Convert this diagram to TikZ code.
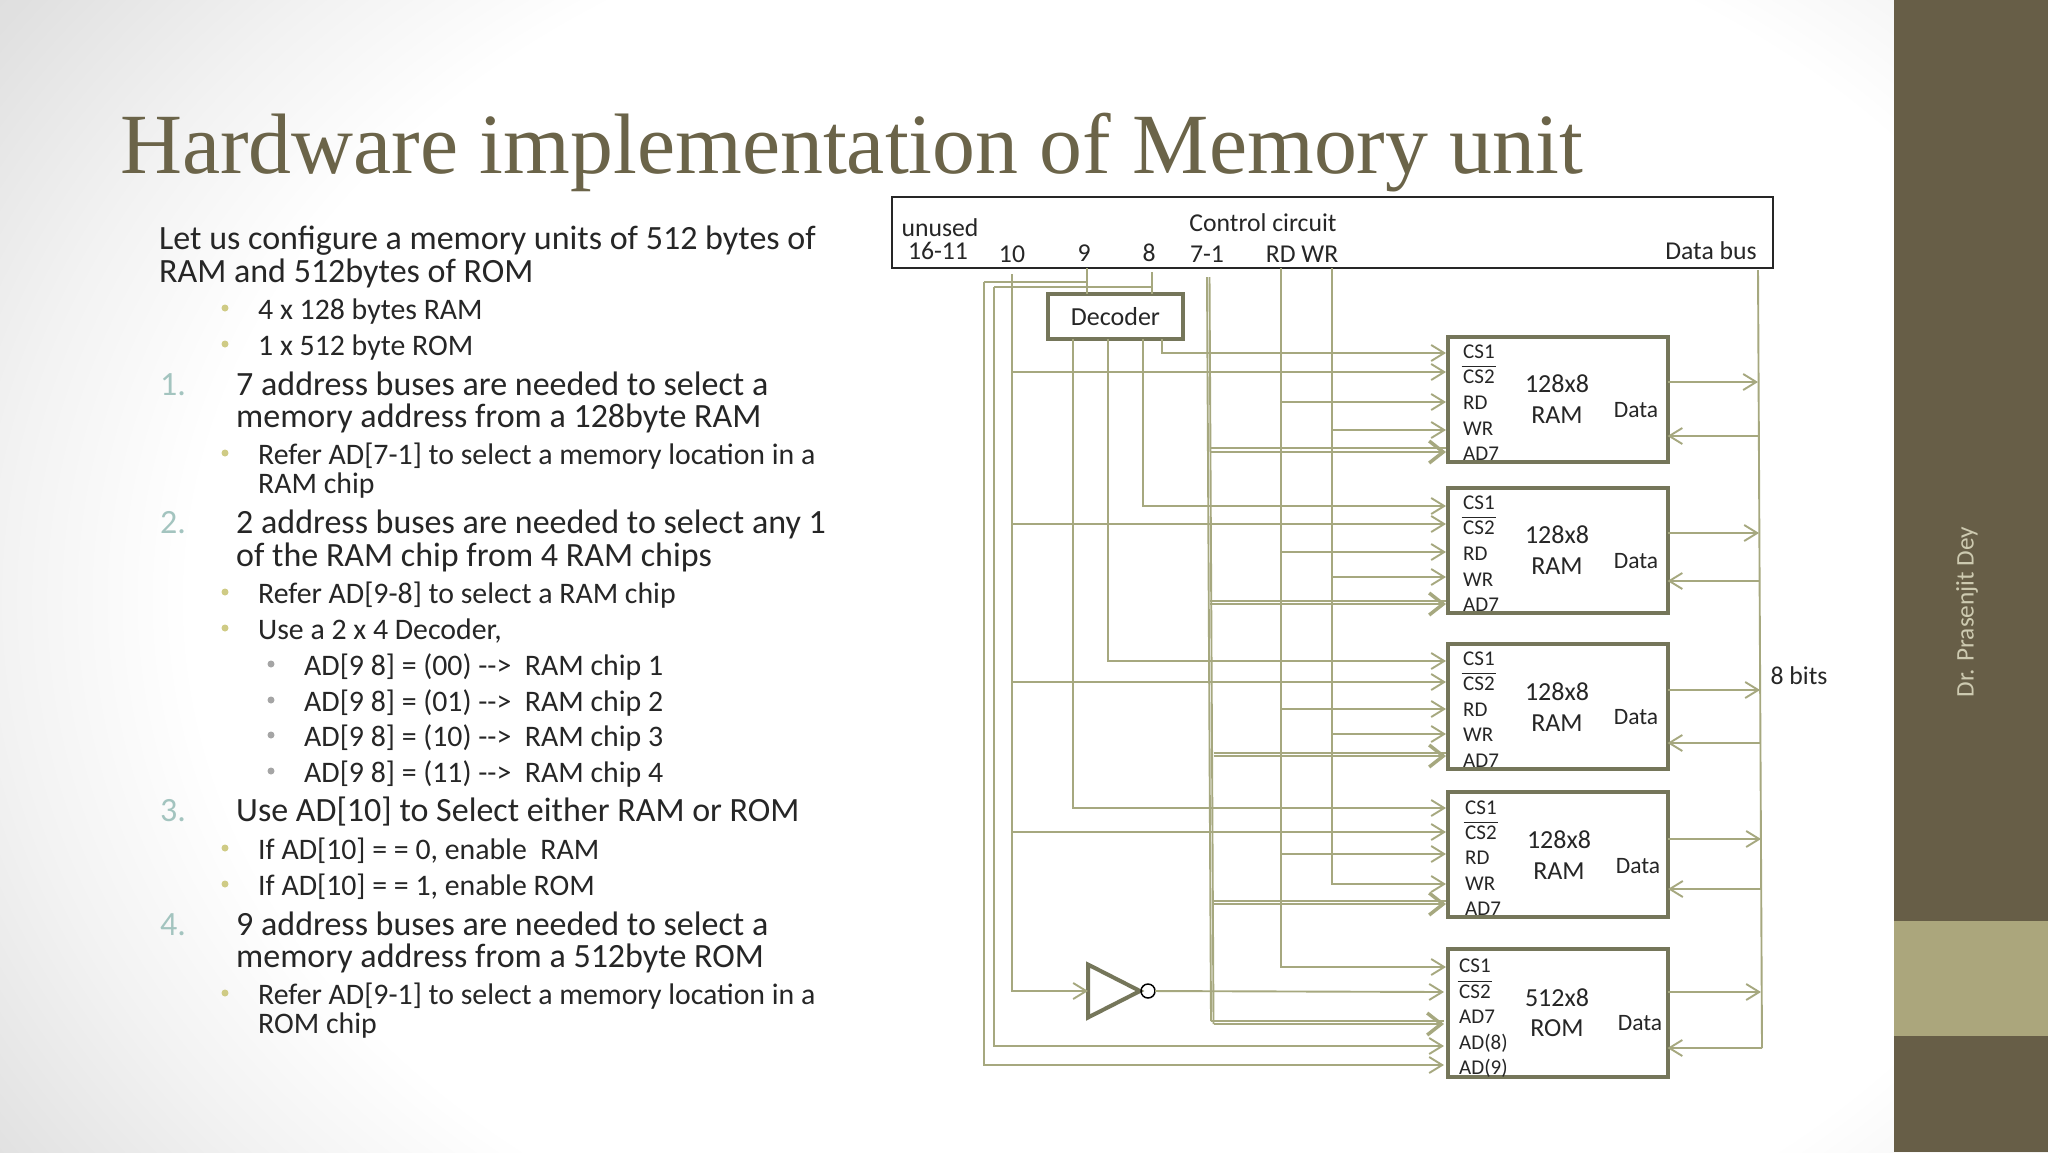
\documentclass[tikz,border=0pt]{standalone}
\usepackage{fontspec}
\setmainfont{Carlito}
\newfontfamily\titlefont{Liberation Serif}
\usetikzlibrary{arrows.meta,shapes.geometric}
\definecolor{wirecol}{HTML}{A6A87F}
\definecolor{boxcol}{HTML}{75765A}
\definecolor{sidecol}{HTML}{675E47}
\definecolor{bandcol}{HTML}{ABA67C}
\definecolor{titlecol}{HTML}{6B6449}
\definecolor{numcol}{HTML}{A3C4BF}
\definecolor{dotcol}{HTML}{CFCB85}
\definecolor{dotgray}{HTML}{A5A5A5}
\definecolor{inkcol}{HTML}{262626}
\definecolor{bga}{gray}{0.975}
\definecolor{bgb}{gray}{0.95}
\definecolor{bgc}{gray}{0.88}
\definecolor{bgd}{gray}{0.84}
\newcommand{\barred}[1]{\vbox{\hrule height 1.3pt \kern 2.2pt \hbox{\kern 1.5pt #1\kern 1.5pt}}}
\newcommand{\fsz}[1]{\fontsize{#1}{#1}\selectfont}
\pgfdeclareradialshading{slidebg}{\pgfpointorigin}{color(0bp)=(white); color(15bp)=(white); color(16.5bp)=(bga); color(18bp)=(bgb); color(21.5bp)=(bgc); color(25bp)=(bgd); color(50bp)=(bgd)}
\begin{document}
\begin{tikzpicture}[x=1pt, y=-1pt,
    >={Straight Barb[length=13pt,width=16pt]},
    wire/.style={draw=wirecol, line width=1.9pt},
    bus/.style={wire, -{Straight Barb[length=14pt,width=22pt,line width=3.5pt]}},
    chip/.style={draw=boxcol, line width=4pt, fill=white, minimum width=220pt, minimum height=125pt, inner sep=0pt, outer sep=0pt},
    pin/.style={anchor=base west, inner sep=0pt, text=inkcol, font=\fsz{21}},
    big/.style={inner sep=0pt, text=inkcol, font=\fsz{26}},
    dat/.style={inner sep=0pt, text=inkcol, font=\fsz{23.5}},
    head/.style={inner sep=0pt, text=inkcol, font=\fsz{25.7}},
    lvla/.style={anchor=base west, inner sep=0pt, text=inkcol, font=\fsz{34}},
    lvlb/.style={anchor=base west, inner sep=0pt, text=inkcol, font=\fsz{29.8}},
    numb/.style={anchor=base west, inner sep=0pt, text=numcol, font=\fsz{34}},
    dot/.style={circle, fill=dotcol, inner sep=0pt, minimum size=7pt},
    dotg/.style={circle, fill=dotgray, inner sep=0pt, minimum size=7pt}]
    \useasboundingbox (0,0) rectangle (2048,1152);

    % Slide background
    \begin{scope}
    \clip (0,0) rectangle (2048,1152);
    \shade[shading=slidebg] (-450,-600) rectangle (2750,1800);
    \end{scope}
    \fill[sidecol] (1894,0) rectangle (2048,1152);
    \fill[bandcol] (1894,921) rectangle (2048,1036);
    \node[rotate=90, inner sep=0pt, text=bandcol!60!white, font=\fsz{25.3}] (author) at (1967,612) {Dr. Prasenjit Dey};

    % Title
    \node[anchor=base west, inner sep=0pt, text=titlecol, font=\titlefont\fsz{85.8}] (title) at (120,173) {Hardware implementation of Memory unit};

    % Left column
    \node[lvla] (intro1) at (159,249) {Let us configure a memory units of 512 bytes of};
    \node[lvla] (intro2) at (159,282) {RAM and 512bytes of ROM};
    \node[dot] (d1) at (225,308) {};
    \node[lvlb] (t1) at (258,319) {4 x 128 bytes RAM};
    \node[dot] (d2) at (225,344) {};
    \node[lvlb] (t2) at (258,355) {1 x 512 byte ROM};
    \node[numb] (n1) at (160,395) {1.};
    \node[lvla] (p1a) at (236,395) {7 address buses are needed to select a};
    \node[lvla] (p1b) at (236,427) {memory address from a 128byte RAM};
    \node[dot] (d3) at (225,453) {};
    \node[lvlb] (t3a) at (258,464) {Refer AD[7-1] to select a memory location in a};
    \node[lvlb] (t3b) at (258,493) {RAM chip};
    \node[numb] (n2) at (160,533) {2.};
    \node[lvla] (p2a) at (236,533) {2 address buses are needed to select any 1};
    \node[lvla] (p2b) at (236,566) {of the RAM chip from 4 RAM chips};
    \node[dot] (d4) at (225,592) {};
    \node[lvlb] (t4) at (258,603) {Refer AD[9-8] to select a RAM chip};
    \node[dot] (d5) at (225,628) {};
    \node[lvlb] (t5) at (258,639) {Use a 2 x 4 Decoder,};
    \node[dotg] (g1) at (271,664) {};
    \node[lvlb] (s1) at (304,675) {AD[9 8] = (00) -{}-{}>\ \ RAM chip 1};
    \node[dotg] (g2) at (271,700) {};
    \node[lvlb] (s2) at (304,711) {AD[9 8] = (01) -{}-{}>\ \ RAM chip 2};
    \node[dotg] (g3) at (271,735) {};
    \node[lvlb] (s3) at (304,746) {AD[9 8] = (10) -{}-{}>\ \ RAM chip 3};
    \node[dotg] (g4) at (271,771) {};
    \node[lvlb] (s4) at (304,782) {AD[9 8] = (11) -{}-{}>\ \ RAM chip 4};
    \node[numb] (n3) at (160,821) {3.};
    \node[lvla] (p3) at (236,821) {Use AD[10] to Select either RAM or ROM};
    \node[dot] (d6) at (225,848) {};
    \node[lvlb] (t6) at (258,859) {If AD[10] = = 0, enable\ \ RAM};
    \node[dot] (d7) at (225,884) {};
    \node[lvlb] (t7) at (258,895) {If AD[10] = = 1, enable ROM};
    \node[numb] (n4) at (160,935) {4.};
    \node[lvla] (p4a) at (236,935) {9 address buses are needed to select a};
    \node[lvla] (p4b) at (236,967) {memory address from a 512byte ROM};
    \node[dot] (d8) at (225,993) {};
    \node[lvlb] (t8a) at (258,1004) {Refer AD[9-1] to select a memory location in a};
    \node[lvlb] (t8b) at (258,1033) {ROM chip};

    % Control box on top
    \node[draw=inkcol, line width=1.8pt, inner sep=0pt, outer sep=0pt, minimum width=881pt, minimum height=71pt] (ctrl) at (1332.5,232.5) {};
    \node[head] (unused) at (940,228) {unused};
    \node[head] (addr1611) at (938,251) {16-11};
    \node[head] (addr10) at (1012,254) {10};
    \node[head] (addr9) at (1084,253) {9};
    \node[head] (addr8) at (1149,253) {8};
    \node[head] (circuit) at (1263,223) {Control circuit};
    \node[head] (addr71) at (1207,254) {7-1};
    \node[head] (rdwr) at (1302,254) {RD WR};
    \node[head] (databus) at (1711,251) {Data bus};

    % Decoder and chips
    \node[draw=boxcol, line width=4pt, fill=white, inner sep=0pt, outer sep=0pt, minimum width=135pt, minimum height=45pt, text=inkcol, font=\fsz{26}] (dec) at (1115.5,316.5) {Decoder};
    \node[chip] (ram1) at (1557.5,399.5) {};
    \node[chip] (ram2) at (1557.5,550.5) {};
    \node[chip] (ram3) at (1557.5,706) {};
    \node[chip] (ram4) at (1558,854) {};
    \node[chip, minimum height=128pt] (rom) at (1557.5,1013) {};

    % Free ends of the wires
    \coordinate (a9) at (1087,268);
    \coordinate (a8) at (1152,272);
    \coordinate (a10) at (1012,274);
    \coordinate (a7a) at (1207,277);
    \coordinate (a7b) at (1209.5,277);
    \coordinate (a7c) at (1211,1021);
    \coordinate (a7d) at (1213.5,1024);
    \coordinate (ard) at (1281,268);
    \coordinate (awr) at (1332,268);
    \coordinate (o1) at (1073,339);
    \coordinate (o2) at (1108,339);
    \coordinate (o3) at (1143,339);
    \coordinate (o4) at (1162,339);
    \coordinate (nine) at (984,282);
    \coordinate (eight) at (994,287);
    \coordinate (bust) at (1758,270);
    \coordinate (busb) at (1762,1048);

    % Pins of the chips
    \coordinate (r1cs1) at (1446,353);
    \coordinate (r1cs2) at (1446,372);
    \coordinate (r1rd) at (1446,402);
    \coordinate (r1wr) at (1446,430);
    \coordinate (r1ada) at (1446,448);
    \coordinate (r1adb) at (1446,452);
    \coordinate (r2cs1) at (1446,506);
    \coordinate (r2cs2) at (1446,524);
    \coordinate (r2rd) at (1446,552);
    \coordinate (r2wr) at (1446,577);
    \coordinate (r2ada) at (1446,601);
    \coordinate (r2adb) at (1446,604);
    \coordinate (r3cs1) at (1446,661);
    \coordinate (r3cs2) at (1446,682);
    \coordinate (r3rd) at (1446,709);
    \coordinate (r3wr) at (1446,734);
    \coordinate (r3ada) at (1446,753);
    \coordinate (r3adb) at (1446,756);
    \coordinate (r4cs1) at (1446,808);
    \coordinate (r4cs2) at (1446,832);
    \coordinate (r4rd) at (1446,854);
    \coordinate (r4wr) at (1446,884);
    \coordinate (r4ada) at (1446,901);
    \coordinate (r4adb) at (1446,904);
    \coordinate (rocs1) at (1446,967);
    \coordinate (rocs2) at (1444,992);
    \coordinate (roada) at (1444,1021);
    \coordinate (roadb) at (1444,1024);
    \coordinate (road8) at (1444,1046);
    \coordinate (road9) at (1444,1065);

    % Inverter
    \node[isosceles triangle, isosceles triangle apex angle=54, anchor=west, draw=boxcol, line width=4pt, inner sep=0pt, outer sep=0pt, minimum height=52pt, minimum width=53pt] (inv) at (1088,991) {};
    \node[circle, draw=black, line width=1.5pt, inner sep=0pt, outer sep=0pt, minimum size=14pt] (bub) at (1148,991) {};

    % Address wires into the left side
    \draw[wire] (a9) -- (a9 |- dec.north);
    \draw[wire] (a8) -- (a8 |- dec.north);
    \draw[wire, ->] (nine) -| (nine |- road9) -- (road9);
    \draw[wire] (nine) -- (nine -| a9);
    \draw[wire, ->] (eight) -| (eight |- road8) -- (road8);
    \draw[wire] (eight) -- (eight -| a8);
    \draw[wire, ->] (a10) |- (inv.west);
    \draw[wire, ->] (a10 |- r1cs2) -- (r1cs2);
    \draw[wire, ->] (a10 |- r2cs2) -- (r2cs2);
    \draw[wire, ->] (a10 |- r3cs2) -- (r3cs2);
    \draw[wire, ->] (a10 |- r4cs2) -- (r4cs2);
    \draw[wire, ->] (bub) -- (rocs2);

    % Decoder outputs
    \draw[wire, ->] (o4) |- (r1cs1);
    \draw[wire, ->] (o3) |- (r2cs1);
    \draw[wire, ->] (o2) |- (r3cs1);
    \draw[wire, ->] (o1) |- (r4cs1);

    % Seven address lines
    \draw[wire] (a7a) -- (a7c);
    \draw[wire] (a7b) -- (a7d);
    \draw[wire] (a7b |- r1ada) -- (r1ada);
    \draw[bus] (a7b |- r1adb) -- (r1adb);
    \draw[wire] (a7b |- r2ada) -- (r2ada);
    \draw[bus] (a7b |- r2adb) -- (r2adb);
    \draw[wire] (a7d |- r3ada) -- (r3ada);
    \draw[bus] (a7d |- r3adb) -- (r3adb);
    \draw[wire] (a7d |- r4ada) -- (r4ada);
    \draw[bus] (a7d |- r4adb) -- (r4adb);
    \draw[wire] (a7c) -- (roada);
    \draw[bus] (a7d) -- (roadb);

    % Read and write
    \draw[wire, ->] (ard) |- (rocs1);
    \draw[wire, ->] (ard |- r1rd) -- (r1rd);
    \draw[wire, ->] (ard |- r2rd) -- (r2rd);
    \draw[wire, ->] (ard |- r3rd) -- (r3rd);
    \draw[wire, ->] (ard |- r4rd) -- (r4rd);
    \draw[wire, ->] (awr) |- (r4wr);
    \draw[wire, ->] (awr |- r1wr) -- (r1wr);
    \draw[wire, ->] (awr |- r2wr) -- (r2wr);
    \draw[wire, ->] (awr |- r3wr) -- (r3wr);

    % Data bus
    \draw[wire] (bust) -- (busb);
    \coordinate (r1o) at (1758,382);
    \coordinate (r1i) at (1758,436);
    \coordinate (r2o) at (1759,533);
    \coordinate (r2i) at (1759,581);
    \coordinate (r3o) at (1760,690);
    \coordinate (r3i) at (1760,743);
    \coordinate (r4o) at (1761,839);
    \coordinate (r4i) at (1761,889);
    \coordinate (roo) at (1761,992);
    \draw[wire, ->] (ram1.east |- r1o) -- (r1o);
    \draw[wire, ->] (r1i) -- (ram1.east |- r1i);
    \draw[wire, ->] (ram2.east |- r2o) -- (r2o);
    \draw[wire, ->] (r2i) -- (ram2.east |- r2i);
    \draw[wire, ->] (ram3.east |- r3o) -- (r3o);
    \draw[wire, ->] (r3i) -- (ram3.east |- r3i);
    \draw[wire, ->] (ram4.east |- r4o) -- (r4o);
    \draw[wire, ->] (r4i) -- (ram4.east |- r4i);
    \draw[wire, ->] (rom.east |- roo) -- (roo);
    \draw[wire, ->] (busb) -- (rom.east |- busb);
    \node[head] (bits) at (1799,676) {8 bits};

    % Chip labels
    \node[pin] (r1a) at (1463,358) {CS1};
    \node[pin] (r1b) at (1461.5,383) {\barred{CS2}};
    \node[pin] (r1c) at (1463,409) {RD};
    \node[pin] (r1d) at (1463,435) {WR};
    \node[pin] (r1e) at (1463,460) {AD7};
    \node[big] (r1f) at (1557,384) {128x8};
    \node[big] (r1g) at (1557,415) {RAM};
    \node[dat] (r1h) at (1636,410) {Data};

    \node[pin] (r2a) at (1463,509) {CS1};
    \node[pin] (r2b) at (1461.5,534) {\barred{CS2}};
    \node[pin] (r2c) at (1463,560) {RD};
    \node[pin] (r2d) at (1463,586) {WR};
    \node[pin] (r2e) at (1463,611) {AD7};
    \node[big] (r2f) at (1557,535) {128x8};
    \node[big] (r2g) at (1557,566) {RAM};
    \node[dat] (r2h) at (1636,561) {Data};

    \node[pin] (r3a) at (1463,665) {CS1};
    \node[pin] (r3b) at (1461.5,690) {\barred{CS2}};
    \node[pin] (r3c) at (1463,716) {RD};
    \node[pin] (r3d) at (1463,741) {WR};
    \node[pin] (r3e) at (1463,767) {AD7};
    \node[big] (r3f) at (1557,692) {128x8};
    \node[big] (r3g) at (1557,723) {RAM};
    \node[dat] (r3h) at (1636,717) {Data};

    \node[pin] (r4a) at (1465,814) {CS1};
    \node[pin] (r4b) at (1463.5,839) {\barred{CS2}};
    \node[pin] (r4c) at (1465,864) {RD};
    \node[pin] (r4d) at (1465,890) {WR};
    \node[pin] (r4e) at (1465,915) {AD7};
    \node[big] (r4f) at (1559,840) {128x8};
    \node[big] (r4g) at (1559,871) {RAM};
    \node[dat] (r4h) at (1638,866) {Data};

    \node[pin] (rea) at (1459,972) {CS1};
    \node[pin] (reb) at (1457.5,998) {\barred{CS2}};
    \node[pin] (rec) at (1459,1023) {AD7};
    \node[pin] (red) at (1459,1049) {AD(8)};
    \node[pin] (ree) at (1459,1074) {AD(9)};
    \node[big] (ref) at (1557,998) {512x8};
    \node[big] (reg) at (1557,1028) {ROM};
    \node[dat] (reh) at (1640,1023) {Data};
\end{tikzpicture}
\end{document}
